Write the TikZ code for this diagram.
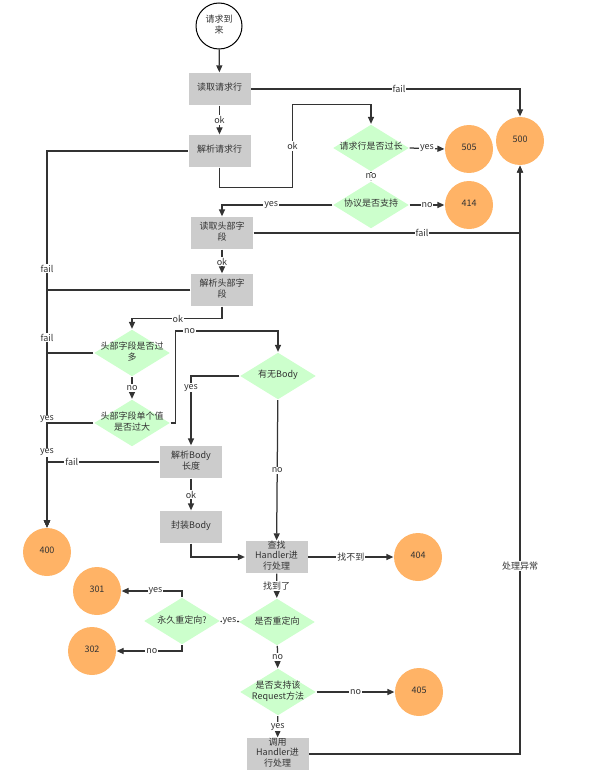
\documentclass[tikz,border=0pt]{standalone}
\usepackage{fontspec}
\setmainfont{Noto Sans CJK SC}
\usetikzlibrary{shapes.geometric,arrows.meta}

\definecolor{boxgray}{HTML}{CCCCCC}
\definecolor{diagreen}{HTML}{CCFFCC}
\definecolor{codeorange}{HTML}{FFB366}
\definecolor{linegray}{HTML}{333333}

% text that does not size the node
\newcommand{\ntext}[1]{\smash{\makebox[0pt]{\raisebox{-2pt}{%
  \begin{tabular}{@{}c@{}}#1\end{tabular}}}}}

\begin{document}
\begin{tikzpicture}[x=1pt, y=-1pt, line width=1.25pt,
  font=\fontsize{9}{10.3}\selectfont, text=linegray]

    \tikzset{procbox/.style={%
      rectangle,%
      fill=boxgray,%
      inner sep=0pt,%
      minimum width=62pt,%
      minimum height=32pt}%
    };
    \tikzset{decision/.style={%
      diamond,%
      fill=diagreen,%
      inner sep=0pt,%
      aspect=1.6,%
      minimum width=76pt,%
      minimum height=47pt}%
    };
    \tikzset{status/.style={%
      circle,%
      fill=codeorange,%
      inner sep=0pt,%
      minimum size=48pt}%
    };
    \tikzset{startcircle/.style={status, fill=white, draw=black, line width=1pt, minimum size=46pt}};
    \tikzset{flow/.style={draw=linegray, -{Triangle[length=7pt,width=6pt]}}};
    \tikzset{lbl/.style={fill=white, inner sep=1pt}};

    \useasboundingbox (0,0) rectangle (589,773);

    %%%%%%%%%%%%%%%%
    % request line %
    %%%%%%%%%%%%%%%%
    \node[startcircle] (arrive) at (219,26) {\ntext{请求到\\来}};
    \node[procbox] (readline) at (219.5,89) {\ntext{读取请求行}};
    \node[procbox] (parseline) at (219.5,151) {\ntext{解析请求行}};
    \node[decision] (toolong) at (371,148) {\ntext{请求行是否过长}};
    \node[decision] (protocol) at (371,205) {\ntext{协议是否支持}};

    \node[status] (c505) at (469,149) {\ntext{505}};
    \node[status] (c500) at (520,141) {\ntext{500}};
    \node[status] (c414) at (469,205) {\ntext{414}};

    %%%%%%%%%%%%%%%%%
    % header fields %
    %%%%%%%%%%%%%%%%%
    \node[procbox] (readhead) at (222,233) {\ntext{读取头部字\\段}};
    \node[procbox] (parsehead) at (222,290) {\ntext{解析头部字\\段}};
    \node[decision] (toomany) at (132,353) {\ntext{头部字段是否过\\多}};
    \node[decision] (toobig) at (132,423) {\ntext{头部字段单个值\\是否过大}};
    \node[status] (c400) at (47,552) {\ntext{400}};

    %%%%%%%%
    % body %
    %%%%%%%%
    \node[decision] (hasbody) at (278,376) {\ntext{有无Body}};
    \node[procbox] (parsebody) at (191,462) {\ntext{解析Body\\长度}};
    \node[procbox] (wrapbody) at (191,527) {\ntext{封装Body}};

    %%%%%%%%%%%
    % handler %
    %%%%%%%%%%%
    \node[procbox] (findh) at (276.5,557) {\ntext{查找\\Handler进\\行处理}};
    \node[status] (c404) at (418,557) {\ntext{404}};
    \node[decision] (redirect) at (277,622) {\ntext{是否重定向}};
    \node[decision] (permanent) at (182,621) {\ntext{永久重定向?}};
    \node[status] (c301) at (97,591) {\ntext{301}};
    \node[status] (c302) at (92,651) {\ntext{302}};
    \node[decision] (support) at (278,692) {\ntext{是否支持该\\Request方法}};
    \node[status] (c405) at (419,692) {\ntext{405}};
    \node[procbox] (callh) at (277.5,754) {\ntext{调用\\Handler进\\行处理}};

    % connectors
    \draw[flow] (arrive) -- (readline);
    \draw[flow] (readline) -- node[lbl] {ok} (parseline);
    \draw[flow] (readline.east) -| node[lbl, pos=0.275] {fail} (c500.north);
    \draw[flow] (parseline.south) -- ++(0,20) -- ++(73,0)
      -- node[lbl] {ok} ++(0,-83) -| (toolong.north);
    \draw[flow] (parseline.west) -| node[lbl, pos=0.656] {fail} (c400.north);
    \draw[flow] (toolong.east) -- node[lbl] {yes} (c505.west);
    \draw[flow] (toolong.south) -- node[lbl] {no} (protocol.north);
    \draw[flow] (protocol.east) -- node[lbl] {no} (c414.west);
    \draw[flow] (protocol.west) -| node[lbl, pos=0.277] {yes} (readhead.north);
    \draw[flow] (readhead.east) -| node[lbl, pos=0.316] {fail} (c500.south);
    \draw[flow] (readhead) -- node[lbl] {ok} (parsehead);
    \draw[flow] (parsehead.west) -| node[lbl, pos=0.6] {fail} (c400.north);
    \draw[flow] (parsehead.south) -- ++(0,12) -| node[lbl, pos=0.245] {ok} (toomany.north);
    \draw[flow] (toomany.west) -| node[lbl, pos=0.69] {yes} (c400.north);
    \draw[flow] (toomany) -- node[lbl] {no} (toobig);
    \draw[flow] (toobig.west) -| node[lbl, pos=0.64] {yes} (c400.north);
    \draw[flow] (toobig.east) -- ++(5,0) -- ++(0,-92) -| node[lbl, pos=0.068] {no} (hasbody.north);
    \draw[flow] (hasbody.west) -| node[lbl, pos=0.585] {yes} (parsebody.north);
    \draw[flow] (hasbody) -- node[lbl] {no} (findh);
    \draw[flow] (parsebody.west) -| node[lbl, pos=0.39] {fail} (c400.north);
    \draw[flow] (parsebody) -- node[lbl] {ok} (wrapbody);
    \draw[flow] (wrapbody.south) |- (findh.west);
    \draw[flow] (findh) -- node[lbl] {找不到} (c404);
    \draw[flow] (findh) -- node[lbl] {找到了} (redirect);
    \draw[flow] (redirect) -- node[lbl] {yes} (permanent);
    \draw[flow] (permanent.north) |- node[lbl, pos=0.72] {yes} (c301.east);
    \draw[flow] (permanent.south) |- node[lbl, pos=0.73] {no} (c302.east);
    \draw[flow] (redirect) -- node[lbl] {no} (support);
    \draw[flow] (support) -- node[lbl] {no} (c405);
    \draw[flow] (support) -- node[lbl] {yes} (callh);
    \draw[flow] (callh.east) -| node[lbl, pos=0.66] {处理异常} (c500.south);

  \end{tikzpicture}
\end{document}
